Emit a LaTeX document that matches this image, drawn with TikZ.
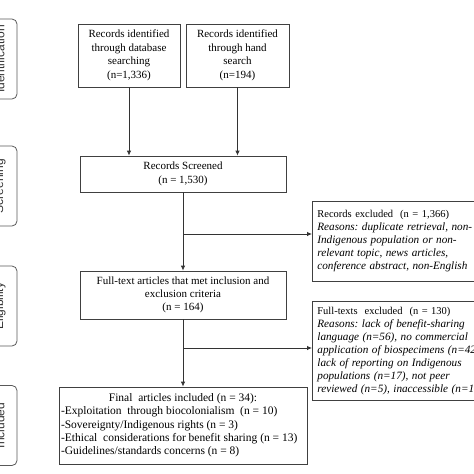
\documentclass[tikz,border=0pt]{standalone}
\usepackage{fontspec}
\setmainfont{Liberation Serif}
\setsansfont{Liberation Sans}
\usetikzlibrary{arrows.meta}
\newcommand{\rsn}[1]{{\fontsize{11.2}{13}\selectfont\itshape #1}}
\begin{document}
\begin{tikzpicture}[x=1pt,y=-1pt,
  box/.style={draw=black!75, line width=0.8pt, align=center, inner sep=0pt,
    font=\fontsize{11}{13.5}\selectfont},
  exbox/.style={draw=black!75, line width=0.8pt, align=left, anchor=north west,
    text width=210pt, inner xsep=5pt, inner ysep=3pt,
    font=\fontsize{10.5}{13}\selectfont},
  lab/.style={draw=black!65, line width=0.8pt, rounded corners=5pt, rotate=90,
    minimum width=80pt, minimum height=34pt, inner sep=0pt,
    font=\sffamily\fontsize{12}{14}\selectfont, text=black!80},
  arr/.style={draw=black!80, line width=0.8pt, -{Latex[length=5pt,width=4.5pt]}},
  ln/.style={draw=black!80, line width=0.8pt}]
\useasboundingbox (0,0) rectangle (474,474);
\clip (0,0) rectangle (474,474);

% stage labels
\node[lab] (L1) at (0,59) {Identification};
\node[lab] (L2) at (0,186) {Screening};
\node[lab] (L3) at (0,306) {Eligibility};
\node[lab] (L4) at (0,425.5) {Included};

% main boxes
\node[box, minimum width=102pt, minimum height=63pt] (A) at (129,55.5)
  {Records identified\\through database\\searching\\(n=1,336)};
\node[box, minimum width=103pt, minimum height=63pt] (B) at (237.5,55.5)
  {Records identified\\through hand\\search\\(n=194)};
\node[box, minimum width=206pt, minimum height=36pt] (S) at (183,174)
  {Records Screened\\(n = 1,530)};
\node[box, minimum width=206pt, minimum height=48pt,
  font=\fontsize{11}{13}\selectfont] (F) at (183,295)
  {Full-text\ articles that met inclusion and\\exclusion criteria\\(n = 164)};
\node[box, minimum width=248pt, minimum height=77pt,
  font=\fontsize{11.5}{13.2}\selectfont] (I) at (183,425.5)
  {\begin{tabular}{@{}p{244pt}@{}}
   \multicolumn{1}{c}{Final\ \ articles included (n = 34):}\\
   -Exploitation\ \ through biocolonialism\ \ (n = 10)\\
   -Sovereignty/Indigenous rights (n = 3)\\
   -Ethical\ \ considerations for benefit sharing (n = 13)\\
   -Guidelines/standards concerns (n = 8)
   \end{tabular}};

% exclusion boxes
\node[exbox, minimum height=80pt] (E1) at (312,201)
  {Records excluded\ \ (n = 1,366)\\
   \rsn{Reasons:\ duplicate retrieval, non-}\\
   \rsn{Indigenous population or non-}\\
   \rsn{relevant topic, news articles,}\\
   \rsn{conference abstract, non-English}};
\node[exbox, minimum height=99pt] (E2) at (312,301)
  {Full-texts\ \ excluded\ \ (n = 130)\\
   \rsn{Reasons:\ lack of benefit-sharing}\\
   \rsn{language (n=56), no commercial}\\
   \rsn{application of biospecimens (n=42),}\\
   \rsn{lack of reporting on Indigenous}\\
   \rsn{populations (n=17), not peer}\\
   \rsn{reviewed (n=5), inaccessible (n=10)}};

% connectors
\draw[arr] (A.south) -- (A.south |- S.north);
\draw[arr] (B.south) -- (B.south |- S.north);
\draw[arr] (S.south) -- (F.north);
\draw[arr] (F.south) -- (I.north);
\coordinate (j1) at (183,234);
\coordinate (j2) at (183,348);
\draw[arr] (j1) -- (j1 -| E1.west);
\draw[arr] (j2) -- (j2 -| E2.west);
\end{tikzpicture}
\end{document}
